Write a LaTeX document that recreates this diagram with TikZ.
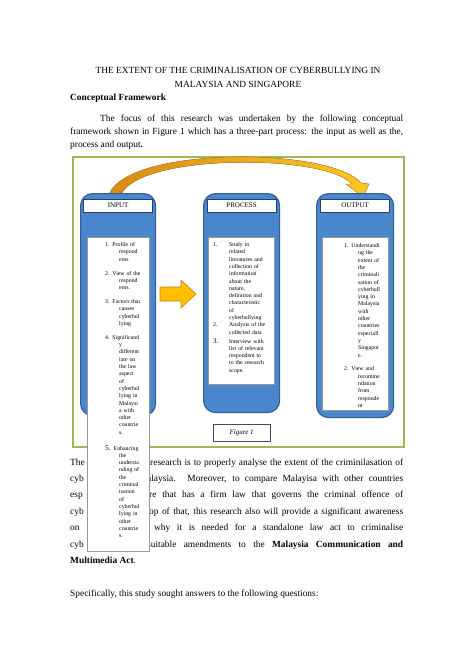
\documentclass[tikz,border=0pt]{standalone}
\usepackage{fontspec}
\setmainfont{Liberation Serif}
\usetikzlibrary{positioning}

\definecolor{colblue}{RGB}{74,134,204}
\definecolor{colborder}{RGB}{52,92,145}
\definecolor{framegreen}{RGB}{155,187,89}
\definecolor{arrowdark}{RGB}{214,138,22}
\definecolor{arrowlight}{RGB}{252,200,40}
\definecolor{arrowedge}{RGB}{200,130,30}
\definecolor{chevfill}{RGB}{255,190,0}

\newcommand{\hang}{\hspace*{14pt}}
\newcommand{\pind}{\hspace*{16pt}}

\begin{document}
\begin{tikzpicture}[x=1pt, y=-1pt,
    column/.style={draw=colborder, line width=1.2pt, fill=colblue, rounded corners=12pt, anchor=north west, inner sep=0pt},
    header/.style={draw=colborder!70!black, fill=white, minimum width=69pt, minimum height=13pt, inner sep=0pt, font=\fontsize{7}{8}\selectfont},
    listbox/.style={draw=gray!80, fill=white, line width=0.8pt, inner sep=0pt},
    listtext/.style={anchor=base west, inner sep=0pt, text width=60pt, align=left, font=\fontsize{5.8}{7.3}\selectfont},
    bodyline/.style={anchor=base west, inner sep=0pt, font=\fontsize{9.4}{11}\selectfont}
]
\fill[white] (0,0) rectangle (474,670);
\useasboundingbox (0,0) rectangle (474,670);

% page text above the figure
\node[anchor=base, inner sep=0pt, font=\fontsize{9.4}{11}\selectfont] (title1) at (238,73) {THE EXTENT OF THE CRIMINALISATION OF CYBERBULLYING IN};
\node[anchor=base, inner sep=0pt, font=\fontsize{9.4}{11}\selectfont] (title2) at (238,87) {MALAYSIA AND SINGAPORE};
\node[bodyline, font=\fontsize{9.4}{11}\selectfont\bfseries] (heading) at (70,100) {Conceptual Framework};
\node[bodyline] (intro1) at (70,121) {\makebox[333pt][s]{\hspace*{30pt}The focus of this research was undertaken by the following conceptual}};
\node[bodyline] (intro2) at (70,134) {\makebox[333pt][s]{framework shown in Figure 1 which has a three-part process: the input as well as the,}};
\node[bodyline] (intro3) at (70,147) {process and output\textbf{.}};

% figure frame
\node[draw=framegreen, line width=1.5pt, minimum width=331pt, minimum height=290pt, anchor=north west, inner sep=0pt] (frame) at (72,156) {};

% curved arrow from input to output
\filldraw[left color=arrowdark, right color=arrowlight, draw=arrowedge, line width=0.4pt]
  (108,198) .. controls (118,146) and (330,146) .. (361,183) -- (369,184) -- (363,197) -- (346,184) -- (352,184)
  .. controls (325,153) and (130,153) .. (120,198) -- cycle;

% columns
\node[column, minimum width=75pt, minimum height=222pt] (inputcol) at (80,193) {};
\node[column, minimum width=76pt, minimum height=219pt] (processcol) at (203,193) {};
\node[column, minimum width=77pt, minimum height=224pt] (outputcol) at (316,193) {};

\node[header, below=6pt of inputcol.north] (inputhead) {INPUT};
\node[header, below=6pt of processcol.north] (processhead) {PROCESS};
\node[header, below=6pt of outputcol.north] (outputhead) {OUTPUT};

\node[listbox, below=25pt of processhead, minimum width=66pt, minimum height=147pt] (processlist) {};
\node[listbox, below=25pt of outputhead, minimum width=66pt, minimum height=173pt] (outputlist) {};

% process items
\node[listtext] (processitems) at (213,246.5) {%
\makebox[16pt][l]{1.}Study in\\
\pind related\\
\pind literatures and\\
\pind collection of\\
\pind information\\
\pind about the\\
\pind nature,\\
\pind definition and\\
\pind characteristic\\
\pind of\\
\pind cyberbullying\\
\makebox[16pt][l]{2.}Analysis of the\\
\pind collected data\\[1.6pt]
\makebox[16pt][l]{\fontsize{7}{7}\selectfont 3.}Interview with\\
\pind list of relevant\\
\pind respondent to\\
\pind to the research\\
\pind scope.};

% output items
\begin{scope}
\clip (outputlist.north west) rectangle (outputlist.south east);
\node[listtext] (outputitems) at (344,247.5) {%
1. Understandi\\
\hang ng the\\
\hang extent of\\
\hang the\\
\hang criminali\\
\hang sation of\\
\hang cyberbull\\
\hang ying in\\
\hang Malaysia\\
\hang with\\
\hang other\\
\hang countries\\
\hang especiall\\
\hang y\\
\hang Singapor\\
\hang e.\\[6.6pt]
2. View and\\
\hang recomme\\
\hang ndation\\
\hang from\\
\hang responde\\
\hang nt};
\end{scope}

% arrow between input and process
\filldraw[fill=chevfill, draw=arrowedge, line width=0.6pt]
  (160,287) -- (181,287) -- (181,280) -- (196,294) -- (181,308) -- (181,301) -- (160,301) -- cycle;

\node[draw=gray!60!black, fill=white, minimum width=57pt, minimum height=17pt, inner sep=0pt, font=\fontsize{7}{8}\selectfont\itshape, below=11pt of processcol] (figcap) {Figure 1};

% page text below the figure
\node[bodyline] (objL1) at (70,465) {The};
\node[bodyline] (objR1) at (150,465) {\makebox[253pt][s]{research is to properly analyse the extent of the criminilasation of}};
\node[bodyline] (objL2) at (70,481) {cyb};
\node[bodyline] (objR2) at (147,481) {\makebox[256pt][s]{alaysia. Moreover, to compare Malayisa with other countries}};
\node[bodyline] (objL3) at (70,497) {esp};
\node[bodyline] (objR3) at (149,497) {\makebox[254pt][s]{re that has a firm law that governs the criminal offence of}};
\node[bodyline] (objL4) at (70,514) {cyb};
\node[bodyline] (objR4) at (149,514) {\makebox[254pt][s]{op of that, this research also will provide a significant awareness}};
\node[bodyline] (objL5) at (70,530) {on};
\node[bodyline] (objR5) at (154,530) {\makebox[249pt][s]{why it is needed for a standalone law act to criminalise}};
\node[bodyline] (objL6) at (70,547) {cyb};
\node[bodyline] (objR6) at (147,547) {\makebox[256pt][s]{suitable amendments to the \textbf{Malaysia Communication and}}};
\node[bodyline] (objL7) at (70,563) {\textbf{Multimedia Act}.};
\node[bodyline] (question) at (70,596) {Specifically, this study sought answers to the following questions:};

% input list overflows the frame
\node[listbox, below=25pt of inputhead, minimum width=62pt, minimum height=314pt] (inputlist) {};
\node[listtext] (inputitems) at (105,246.5) {%
1. Profile of\\
\hang respond\\
\hang ents\\[6.6pt]
2. View of the\\
\hang respond\\
\hang ents.\\[6.6pt]
3. Factors that\\
\hang causes\\
\hang cyberbul\\
\hang lying\\[6.6pt]
4. Significantl\\
\hang y\\
\hang different\\
\hang iate on\\
\hang the law\\
\hang aspect\\
\hang of\\
\hang cyberbul\\
\hang lying in\\
\hang Malaysi\\
\hang a with\\
\hang other\\
\hang countrie\\
\hang s.\\[8.5pt]
{\fontsize{7.5}{7.3}\selectfont 5.} Enhancing\\
\hang the\\
\hang understa\\
\hang nding of\\
\hang the\\
\hang criminal\\
\hang isation\\
\hang of\\
\hang cyberbul\\
\hang lying in\\
\hang other\\
\hang countrie\\
\hang s.};
\end{tikzpicture}
\end{document}
